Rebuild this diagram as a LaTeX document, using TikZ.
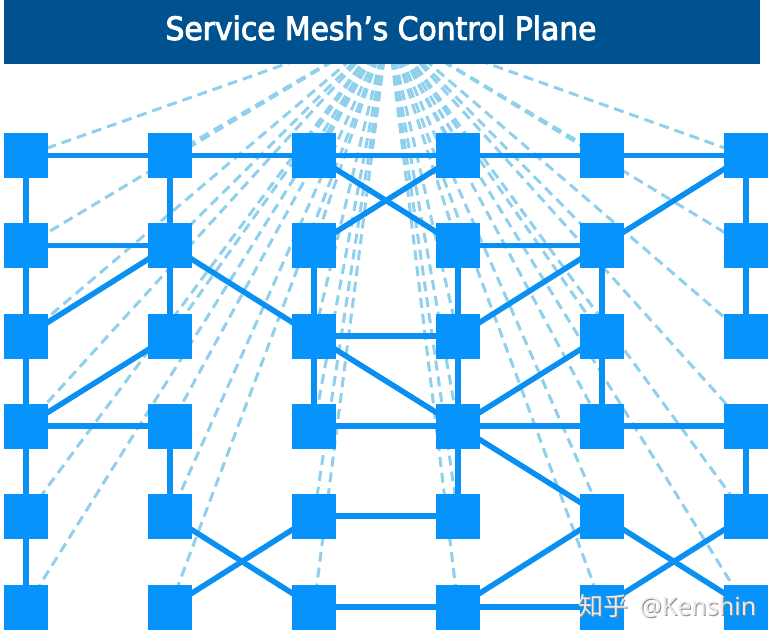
\documentclass[tikz,border=0pt]{standalone}
\usepackage{fontspec}
\setmainfont{DejaVu Sans}
\newfontfamily\titlefont[FakeStretch=0.93,FakeBold=3]{DejaVu Sans}
\newfontfamily\cjkfont{Noto Sans CJK SC}
\newfontfamily\markfont{Noto Sans}
\definecolor{nodeblue}{HTML}{0693FB}
\definecolor{linkblue}{HTML}{0A90F2}
\definecolor{dashblue}{HTML}{8FD0EC}
\definecolor{headblue}{HTML}{00518F}
\pgfdeclarelayer{dashlayer}
\pgfdeclarelayer{linklayer}
\pgfdeclarelayer{toplayer}
\pgfsetlayers{dashlayer,linklayer,main,toplayer}
\tikzset{
  x=1pt,y=-1pt,
  svc/.style={fill=nodeblue,draw=none,minimum width=44pt,minimum height=45pt,inner sep=0pt,outer sep=0pt},
  link/.style={draw=linkblue,line width=5.5pt},
  ctrl/.style={draw=dashblue,line width=3pt,dash pattern=on 10pt off 6pt},
  head/.style={fill=headblue,draw=none,minimum width=756pt,minimum height=64pt,inner sep=0pt,outer sep=0pt,text=white}
}
\begin{document}
\begin{tikzpicture}
\useasboundingbox (0,0) rectangle (776,636);
\foreach \c/\x in {0/26,1/170,2/314,3/458,4/602,5/746}
  \foreach \r/\y in {0/155.5,1/245.5,2/336,3/426,4/516,5/607}
    \node[svc] (n\c\r) at (\x,\y) {};
\coordinate (src) at (388,28);
\begin{pgfonlayer}{dashlayer}
\foreach \c in {0,...,5}
  \foreach \r in {0,...,5}
    \draw[ctrl] (src) -- (n\c\r.center);
\end{pgfonlayer}
\begin{pgfonlayer}{linklayer}
\foreach \a/\b in {00/10,10/20,20/30,30/40,40/50,
  00/01,01/02,02/03,03/04,04/05,
  01/11,02/11,03/12,03/13,10/11,11/12,13/14,
  11/22,20/31,21/30,21/22,22/23,22/32,22/33,23/33,
  31/41,31/32,32/33,33/34,41/50,32/41,33/42,33/43,43/53,
  41/42,42/43,33/44,35/44,35/25,24/34,14/25,15/24,
  45/54,44/55,50/51,51/52,53/54,35/45}
  \draw[link] (n\a.center) -- (n\b.center);
\end{pgfonlayer}
\begin{pgfonlayer}{toplayer}
\node[head] (title) at (382,32) {};
\node[text=white,font=\titlefont\fontsize{32}{36}\selectfont,anchor=center] (titletext) at (381,28) {Service Mesh’s Control Plane};
\node[text=black!45,anchor=west,inner sep=0pt] (markshadow) at (579,607.5) {\fontsize{25}{28}\selectfont\cjkfont 知乎\ \ \markfont @Kenshin};
\node[text=white!92!black,anchor=west,inner sep=0pt] (mark) at (578,606.5) {\fontsize{25}{28}\selectfont\cjkfont 知乎\ \ \markfont @Kenshin};
\end{pgfonlayer}
\end{tikzpicture}
\end{document}
